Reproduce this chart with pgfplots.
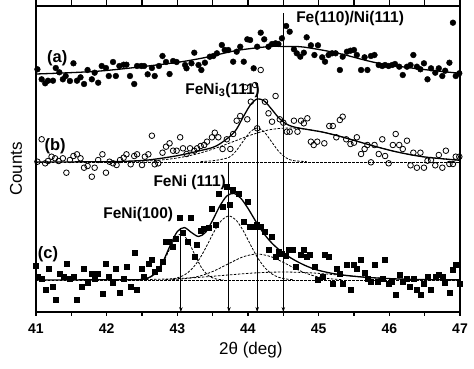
\documentclass[border=0pt]{standalone}
\usepackage{fontspec}
\setmainfont{Liberation Sans}
\usepackage{pgfplots}
\pgfplotsset{compat=1.18}
\usetikzlibrary{arrows.meta}
\begin{document}
\begin{tikzpicture}
\useasboundingbox (-36pt,-56pt) rectangle (438pt,312pt);
% top ticks
\begin{axis}[
  at={(0,0)}, anchor=south west,
  width=424pt, height=306pt, scale only axis,
  xmin=41, xmax=47, ymin=0, ymax=306,
  axis x line*=top, axis y line=none,
  xtick={41,...,47}, minor xtick={41.5,42.5,...,46.5},
  xticklabels={}, tick align=outside,
  major tick length=6pt, minor tick length=6pt,
  tick style={line width=1.1pt, black},
  axis line style={line width=1.3pt},
]
\end{axis}
\begin{axis}[
  at={(0,0)}, anchor=south west,
  width=424pt, height=306pt, scale only axis,
  xmin=41, xmax=47, ymin=0, ymax=306,
  xtick={41,...,47}, minor xtick={41.5,42.5,...,46.5},
  xtick pos=bottom, ytick=\empty,
  tick align=outside, major tick length=3.5pt, minor tick length=3.5pt,
  axis line style={line width=1.3pt},
  tick style={line width=1.1pt, black},
  /pgf/number format/assume math mode=true,
  ticklabel style={font=\fontsize{14}{16}\selectfont\bfseries},
  xticklabel style={yshift=-5pt},
  clip=false,
]
% ---------- (a) ----------
\addplot[only marks, mark=*, mark size=2.9pt, black] coordinates {
(41.02,242.7)(41.08,232.7)(41.13,228.7)(41.17,231.3)(41.24,231.3)(41.28,244)(41.33,239.7)(41.38,232.7)
(41.42,236)(41.48,231)(41.53,248.7)(41.58,231.3)(41.63,234.7)(41.68,228)(41.73,242)(41.79,232.7)
(41.83,239.3)(41.88,229.3)(41.93,246)(41.99,244)(42.03,236)(42.09,250)(42.13,236)(42.18,246)
(42.24,247.3)(42.28,247.3)(42.33,236)(42.39,228)(42.43,246)(42.49,246)(42.53,246)(42.58,237.7)
(42.64,244)(42.68,236)(42.74,246)(42.79,256)(42.84,250)(42.89,238)(42.94,251)(42.99,250)
(43.11,247)(43.13,243.7)(43.20,248.7)(43.24,259.3)(43.30,247)(43.34,242)(43.39,249.3)(43.46,255.3)
(43.51,256)(43.56,258.7)(43.63,267)(43.67,262)(43.72,262)(43.79,250.3)(43.84,260.3)(43.89,265.3)
(43.94,250.3)(43.99,272.7)(44.03,272)(44.08,243.7)(44.13,265.3)(44.18,279.3)(44.23,272.7)(44.29,265.3)
(44.34,268)(44.39,268.7)(44.43,268)(44.48,273.7)(44.54,286)(44.59,280.3)(44.65,262.7)(44.69,258.7)
(44.74,255.3)(44.79,259.3)(44.83,274.7)(44.89,266.7)(44.94,257)(44.99,266.7)(45.05,254.7)(45.09,250.3)
(45.14,257)(45.19,258.7)(45.24,258.7)(45.30,242)(45.34,255.3)(45.40,260.3)(45.45,261.3)(45.50,262)
(45.54,257)(45.60,242)(45.65,254.7)(45.69,242)(45.74,256)(45.79,257)(45.85,247)(45.90,246)
(45.94,247)(45.99,246)(46.04,247)(46.08,248)(46.14,245.3)(46.19,237)(46.25,245.3)(46.30,247)
(46.34,257)(46.39,245.3)(46.44,242.7)(46.49,248.7)(46.54,232.7)(46.59,243.7)(46.65,239.3)(46.70,243.7)
(46.75,236)(46.79,241.3)(46.85,249.3)(46.90,289.3)(46.94,236)(46.99,238.7)
};
\addplot[line width=1.3pt, black, smooth] coordinates {
(41,238)(41.91,241)(42.90,248.7)(43.36,254)(43.84,261.5)(44.31,265.5)(44.51,265.5)(44.78,265)
(45.26,259)(45.83,249)(46.43,243)(47,238.7)
};
% ---------- (b) ----------
\addplot[only marks, mark=o, mark size=2.8pt, black, mark options={line width=0.8pt}] coordinates {
(41.02,150.3)(41.08,172.7)(41.13,148.7)(41.17,151)(41.22,155.3)(41.27,153.7)(41.32,151)(41.38,153.7)
(41.43,139.3)(41.48,152)(41.53,156)(41.58,157.7)(41.63,153.7)(41.68,144.3)(41.73,146)(41.79,135.3)
(41.83,144.3)(41.88,152)(41.94,157.7)(41.99,139.3)(42.04,150.3)(42.09,148.7)(42.14,147)(42.19,152)
(42.24,154.3)(42.28,157.7)(42.34,147.7)(42.39,156)(42.43,157.7)(42.50,147)(42.54,155.3)(42.59,157.7)
(42.64,176.3)(42.68,147.7)(42.73,148.7)(42.79,159.3)(42.84,165.3)(42.89,168.7)(42.94,161.3)(42.99,161.3)
(43.04,174.7)(43.08,163.7)(43.13,158)(43.18,163.7)(43.24,161.3)(43.28,163.7)(43.33,166)(43.38,167)
(43.42,170.3)(43.49,174.7)(43.53,179.3)(43.58,174.7)(43.64,163)(43.70,172.7)(43.75,163)(43.79,178)
(43.84,191.3)(43.89,196)(43.96,224.7)(44.10,227)(43.99,192.7)(44.04,210.3)(44.13,183.7)(44.18,242)
(44.24,210.3)(44.29,198.7)(44.34,190.3)(44.39,216)(44.45,192.7)(44.50,189.3)(44.55,180.3)(44.59,180.3)
(44.65,191.3)(44.70,180.3)(44.75,191.3)(44.79,188.7)(44.84,193.7)(44.89,170.3)(44.93,167)(44.98,170.3)
(45.08,168.7)(45.15,186)(45.20,186)(45.25,174.7)(45.30,192)(45.34,195.3)(45.39,172.7)(45.45,168)
(45.50,169.3)(45.54,174.7)(45.60,158)(45.65,163)(45.69,167)(45.74,149.7)(45.79,167)(45.85,158)
(45.90,172.7)(45.94,156)(45.99,148.7)(46.05,167)(46.09,178)(46.14,167)(46.19,163)(46.25,171.3)
(46.30,146.7)(46.34,159.3)(46.39,144.3)(46.44,159.3)(46.49,144.3)(46.54,151.3)(46.59,152)(46.65,146.7)
(46.70,157)(46.75,144.3)(46.80,161.3)(46.85,148)(46.90,148)(46.94,155.3)(46.99,155.3)
};
\addplot[line width=1.3pt, black, smooth] coordinates {
(41,150)(42,150.3)(42.5,151.5)(42.8,154)(43.05,157)(43.3,161)(43.55,166)(43.8,179.3)
(43.93,194.8)(44.03,206.7)(44.13,213.1)(44.23,211)(44.33,203.2)(44.43,194.6)(44.53,188.6)(44.63,185.4)
(44.8,183)(45.05,180)(45.3,175.7)(45.55,170.6)(45.8,165.6)(46.05,161)(46.3,157.3)(46.55,154.6)(47,151.7)
};
\addplot[line width=0.8pt, black, dash pattern=on 2.5pt off 1.5pt] coordinates {(41,150)(47,150)};
\addplot[line width=0.8pt, black, dash pattern=on 2.5pt off 1.5pt, smooth] coordinates {
(43.33,150.4)(43.53,151.5)(43.73,154.6)(43.83,161)(43.93,170.6)(44.03,180)(44.13,184)(44.23,180)
(44.33,170.6)(44.43,161)(44.53,154.6)(44.63,151.5)(44.83,150.4)
};
\addplot[line width=0.8pt, black, dash pattern=on 2.5pt off 1.5pt, smooth] coordinates {
(42.05,150.1)(42.55,151)(42.8,152.2)(43.05,154.6)(43.3,158.5)(43.55,164)(43.8,170.6)(44.05,177.2)
(44.3,182.2)(44.55,184)(44.8,183)(45.05,180)(45.3,175.7)(45.55,170.6)(45.8,165.6)(46.05,161)
(46.3,157.3)(46.55,154.6)(47,151.7)
};
% ---------- (c) ----------
\addplot[only marks, mark=square*, mark size=2.5pt, black] coordinates {
(41.00,46.3)(41.03,35.3)(41.08,33)(41.14,22)(41.18,43)(41.23,25.3)(41.28,12.3)(41.33,38)
(41.39,35.3)(41.43,48)(41.48,33)(41.54,35.3)(41.58,12.3)(41.64,25.3)(41.68,43)(41.73,29.7)
(41.79,38)(41.83,33)(41.88,38)(41.94,18)(41.99,48)(42.03,35.3)(42.09,29.7)(42.13,43)
(42.19,19.7)(42.24,33)(42.28,45.3)(42.34,25.3)(42.39,59.7)(42.43,22.3)(42.49,43)(42.53,35.3)
(42.59,48)(42.64,52)(42.68,40.7)(42.73,43)(42.79,50.7)(42.84,70.7)(42.88,70.7)(42.93,65.3)
(42.98,73)(43.04,94.7)(43.08,79.7)(43.14,70.7)(43.19,94.7)(43.24,55.3)(43.28,67.3)(43.33,81.3)
(43.38,83.7)(43.44,84.7)(43.49,103)(43.54,87.3)(43.59,118)(43.64,105.3)(43.70,125.3)(43.74,107.3)
(43.78,122)(43.87,118.7)(43.94,90.7)(44.00,110.7)(44.03,85.3)(44.08,85.3)(44.13,87.3)(44.18,85.3)
(44.24,80.7)(44.29,62.7)(44.34,75.3)(44.39,55.3)(44.43,60.7)(44.48,58.7)(44.54,56.3)(44.58,62.7)
(44.63,62.7)(44.68,45.3)(44.74,57.3)(44.79,62.7)(44.83,55.3)(44.88,57.3)(44.94,45.3)(44.99,32.7)
(45.05,35.3)(45.09,57.3)(45.14,55.3)(45.20,28)(45.25,43)(45.30,38)(45.34,28)(45.39,47.3)
(45.45,22)(45.50,47.3)(45.54,43)(45.60,52)(45.65,39.7)(45.70,33)(45.74,30.7)(45.79,47.3)
(45.84,30.7)(45.90,33)(45.94,52)(45.99,28)(46.04,30.7)(46.09,17.3)(46.14,37.3)(46.19,30.7)
(46.24,33)(46.29,25.3)(46.34,33)(46.39,22)(46.44,17.3)(46.49,28)(46.54,35.3)(46.59,22)
(46.65,35.3)(46.70,37.3)(46.75,35.3)(46.79,29.7)(46.85,19.7)(46.90,42)(46.94,47.3)(46.99,28)
};
\addplot[line width=1.3pt, black, smooth] coordinates {
(41,32)(42.4,32.3)(42.5,32.8)(42.6,34.5)(42.7,39.6)(42.8,50.8)(42.9,66.7)(43.0,80.5)(43.1,84.4)
(43.2,79.5)(43.3,75.5)(43.4,79.7)(43.5,91.8)(43.6,105.8)(43.7,116)(43.8,118.6)(43.9,113.6)(44.0,103.6)
(44.1,91.8)(44.2,80.8)(44.3,71.8)(44.4,64.7)(44.5,59.1)(44.6,54.3)(44.7,50.3)(44.8,46.8)(44.9,43.9)
(45.0,41.6)(45.2,38.5)(45.4,36.5)(45.6,35.1)(45.8,34.1)(46.0,33.4)(46.3,32.6)(46.6,32.3)(47,32.1)
};
\addplot[line width=0.8pt, black, dash pattern=on 2.5pt off 1.5pt] coordinates {(41,32)(47,32)};
\addplot[line width=0.8pt, black, dash pattern=on 2.5pt off 1.5pt, smooth] coordinates {
(42.45,32.2)(42.55,33)(42.65,35.9)(42.75,43.5)(42.85,56.8)(42.95,71.4)(43.05,78)(43.15,71.4)
(43.25,56.8)(43.35,43.5)(43.45,35.9)(43.55,33)(43.65,32.2)
};
\addplot[line width=0.8pt, black, dash pattern=on 2.5pt off 1.5pt, smooth] coordinates {
(42.83,32.4)(42.93,33.1)(43.03,34.8)(43.13,38.4)(43.23,45)(43.33,55)(43.43,68)(43.53,81.6)(43.63,92)
(43.73,96)(43.83,92)(43.93,81.6)(44.03,68)(44.13,55)(44.23,45)(44.33,38.4)(44.43,34.8)(44.53,33.1)(44.63,32.4)
};
\addplot[line width=0.8pt, black, dash pattern=on 2.5pt off 1.5pt, smooth] coordinates {
(42.93,32.4)(43.13,33.5)(43.33,36.2)(43.53,41.4)(43.73,48.5)(43.93,55.2)(44.13,58)(44.33,55.2)
(44.53,48.5)(44.73,41.4)(44.93,36.2)(45.13,33.5)(45.33,32.4)
};
\addplot[line width=0.8pt, black, dash pattern=on 2.5pt off 1.5pt, smooth] coordinates {
(42.5,32.4)(42.9,33.1)(43.3,34.6)(43.7,36.9)(44.1,39.1)(44.5,40)(44.9,39.1)(45.3,36.9)(45.7,34.6)
(46.1,33.1)(46.5,32.4)
};
% ---------- markers ----------
\draw[line width=1pt, -{Stealth[length=5pt,width=3.5pt]}] (axis cs:43.05,84) -- (axis cs:43.05,0);
\draw[line width=1pt, -{Stealth[length=5pt,width=3.5pt]}] (axis cs:43.73,150) -- (axis cs:43.73,0);
\draw[line width=1pt, -{Stealth[length=5pt,width=3.5pt]}] (axis cs:44.13,229) -- (axis cs:44.13,0);
\draw[line width=1pt, -{Stealth[length=5pt,width=3.5pt]}] (axis cs:44.50,299) -- (axis cs:44.50,0);
% ---------- labels ----------
\node[font=\fontsize{16.5}{18}\selectfont\bfseries] at (axis cs:41.30,253.5) {(a)};
\node[font=\fontsize{16.5}{18}\selectfont\bfseries] at (axis cs:41.27,166) {(b)};
\node[font=\fontsize{16.5}{18}\selectfont\bfseries] at (axis cs:41.17,58) {(c)};
\node[font=\fontsize{15.5}{18}\selectfont\bfseries, anchor=base west, inner sep=0pt] at (axis cs:44.68,289.5) {Fe(110)/Ni(111)};
\node[font=\fontsize{15.5}{18}\selectfont\bfseries, anchor=base west, inner sep=0pt] at (axis cs:43.11,218) {FeNi\textsubscript{3}(111)};
\node[font=\fontsize{15.5}{18}\selectfont\bfseries, anchor=base west, inner sep=0pt] at (axis cs:42.66,126) {FeNi (111)};
\node[font=\fontsize{15.5}{18}\selectfont\bfseries, anchor=base west, inner sep=0pt] at (axis cs:41.95,94) {FeNi(100)};
\node[font=\fontsize{17}{20}\selectfont] at (axis cs:44.04,-38) {2θ (deg)};
\node[font=\fontsize{17}{20}\selectfont, rotate=90] at (axis cs:40.717,143) {Counts};
\end{axis}
\end{tikzpicture}
\end{document}
